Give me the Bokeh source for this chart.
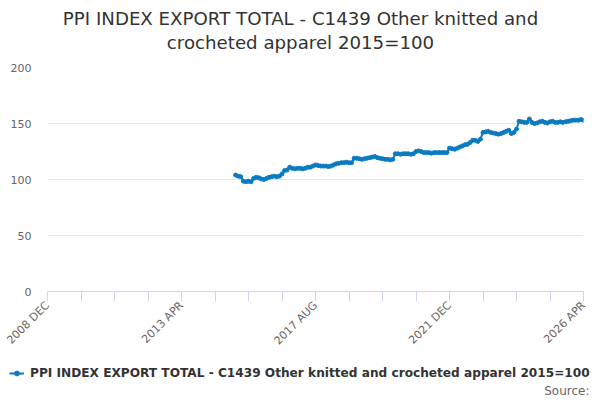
from bokeh.plotting import figure
from bokeh.layouts import column
from bokeh.models import (Range1d, FixedTicker, Legend, LegendItem, Label)
from bokeh.embed import file_html
from bokeh.resources import INLINE

# Month axis: index 0 = 2008 DEC, index 208 = 2026 APR
tick_positions = [0, 52, 104, 156, 208]
tick_labels = ["2008 DEC", "2013 APR", "2017 AUG", "2021 DEC", "2026 APR"]
minor_step = 13
first_month = 73  # 2015 JAN

title_lines = ["PPI INDEX EXPORT TOTAL - C1439 Other knitted and",
               "crocheted apparel 2015=100"]
series_name = "PPI INDEX EXPORT TOTAL - C1439 Other knitted and crocheted apparel 2015=100"

values_2015 = [104, 103, 102.5, 98.5, 98, 98.5, 98, 101, 102, 101.5, 100.5, 100]
values_2016 = [101, 102, 102.5, 103, 102.5, 103, 105, 108, 108.5, 111, 110, 109.5]
values_2017 = [110, 110, 109.5, 110, 111, 111, 112, 113, 112.5, 112, 112, 112]
values_2018 = [111.5, 112, 113, 114, 114.5, 115, 115, 115.5, 115, 115, 119, 119]
values_2019 = [118.5, 118, 118.5, 119, 119.5, 120, 120.5, 119.5, 119, 118.5, 118, 118]
values_2020 = [117.5, 118, 123, 123, 122.5, 123, 123, 123, 122.5, 123, 125, 125.5]
values_2021 = [125, 124, 124, 124, 123.5, 124, 124, 124, 124, 124, 124, 128]
values_2022 = [127.5, 127, 128, 129, 130, 131, 131.5, 133, 135, 135, 134, 136]
values_2023 = [142, 142.5, 143, 142, 141.5, 141, 140.5, 141, 142, 143, 144, 141]
values_2024 = [142, 145, 152, 151.5, 151, 151, 154, 151, 150, 150.5, 151.5, 152]
values_2025 = [151, 150.5, 151.5, 152, 151, 151, 151.5, 151, 151.5, 152, 152.5, 153]
values_2026 = [153, 153, 153.5, 153]

values = (values_2015 + values_2016 + values_2017 + values_2018 + values_2019 +
          values_2020 + values_2021 + values_2022 + values_2023 + values_2024 +
          values_2025 + values_2026)
months = list(range(first_month, first_month + len(values)))

line_color = "#0b7bc1"
font = "DejaVu Sans"


def strip(height):
    """A borderless, axis-free figure used for text bands."""
    f = figure(width=600, height=height, output_backend="svg",
               toolbar_location=None, x_range=Range1d(0, 600),
               y_range=Range1d(0, height), min_border=0,
               outline_line_color=None, background_fill_color="white",
               border_fill_color="white")
    f.axis.visible = False
    f.grid.visible = False
    f.frame_align = False
    return f


# ---- title band ----
top = strip(57)
for txt, ypos in zip(title_lines, [39, 15]):
    top.add_layout(Label(x=300, y=ypos, x_units="screen", y_units="screen",
                         text=txt, text_align="center", text_baseline="middle",
                         text_font=font, text_font_size="18.2px",
                         text_color="#333333"))

# ---- main chart ----
p = figure(width=600, height=298, output_backend="svg", toolbar_location=None,
           x_range=Range1d(0, 208), y_range=Range1d(0, 200),
           min_border_left=47, min_border_right=17,
           min_border_top=10, min_border_bottom=63,
           background_fill_color="white", border_fill_color="white",
           outline_line_color=None)
p.frame_align = False

p.line(months, values, line_color=line_color, line_width=2)
p.scatter(months, values, size=4, fill_color=line_color, line_color=line_color)

# y axis
p.yaxis.ticker = FixedTicker(ticks=[0, 50, 100, 150, 200])
p.yaxis.axis_line_color = None
p.yaxis.major_tick_line_color = None
p.yaxis.minor_tick_line_color = None
p.yaxis.major_label_text_font = font
p.yaxis.major_label_text_font_size = "11px"
p.yaxis.major_label_text_color = "#666666"
p.yaxis.major_label_standoff = 10
p.ygrid.grid_line_color = "#e6e6e6"
p.xgrid.grid_line_color = None

# x axis: ticks every 13 months, labels every 52
p.xaxis.ticker = FixedTicker(ticks=list(range(0, 209, minor_step)))
overrides = {t: "" for t in range(0, 209, minor_step)}
for t, lab in zip(tick_positions, tick_labels):
    overrides[t] = lab
p.xaxis.major_label_overrides = overrides
p.xaxis.axis_line_color = "#ccd6eb"
p.xaxis.major_tick_line_color = "#ccd6eb"
p.xaxis.major_tick_out = 10
p.xaxis.major_tick_in = 0
p.xaxis.minor_tick_line_color = None
p.xaxis.major_label_orientation = 0.785398
p.xaxis.major_label_text_font = font
p.xaxis.major_label_text_font_size = "11px"
p.xaxis.major_label_text_color = "#666666"
p.xaxis.major_label_standoff = 2

# ---- legend band ----
leg = strip(45)
# the series again, lying above this band's visible range; only its key shows
key_line = leg.line(months, values, line_color=line_color, line_width=2)
key_dots = leg.scatter(months, values, size=4, fill_color=line_color,
                       line_color=line_color)

legend = Legend(items=[LegendItem(label=series_name, renderers=[key_line, key_dots])],
                location=(9, 20), orientation="horizontal",
                label_text_font=font, label_text_font_size="12.15px",
                label_text_font_style="bold", label_text_color="#333333",
                glyph_width=15, glyph_height=12, label_height=12,
                label_standoff=6, padding=0, margin=0,
                background_fill_alpha=0, border_line_color=None)
leg.add_layout(legend, "center")

leg.add_layout(Label(x=589, y=10, x_units="screen", y_units="screen",
                     text="Source:", text_align="right", text_baseline="middle",
                     text_font=font, text_font_size="12px",
                     text_color="#666666"))

layout = column(top, p, leg, spacing=0)
open("out.html", "w").write(file_html(layout, INLINE))
